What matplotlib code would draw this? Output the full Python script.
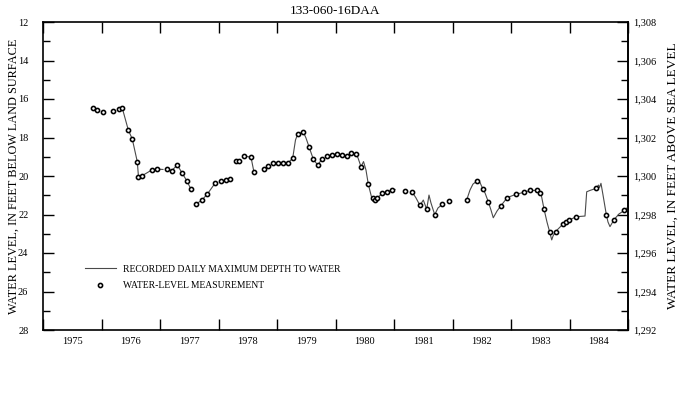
import numpy as np
import matplotlib
matplotlib.use("Agg")
import matplotlib.pyplot as plt
from matplotlib.ticker import FixedLocator, NullFormatter, FuncFormatter

title = "133-060-16DAA"
ylabel_left = "WATER LEVEL, IN FEET BELOW LAND SURFACE"
ylabel_right = "WATER LEVEL, IN FEET ABOVE SEA LEVEL"
legend_line = "RECORDED DAILY MAXIMUM DEPTH TO WATER"
legend_meas = "WATER-LEVEL MEASUREMENT"
years = list(range(1975, 1985))
land_surface = 1320  # feet above sea level

# water-level measurements (decimal year, depth in feet)
meas_year = [1975.860, 1975.928, 1976.031, 1976.202, 1976.294, 1976.356, 1976.458, 1976.526, 1976.612, 1976.629,
             1976.697, 1976.858, 1976.944, 1977.125, 1977.200, 1977.296, 1977.381, 1977.456, 1977.530, 1977.610,
             1977.713, 1977.809, 1977.940, 1978.043, 1978.120, 1978.200, 1978.294, 1978.356, 1978.436, 1978.556,
             1978.607, 1978.778, 1978.851, 1978.937, 1979.022, 1979.108, 1979.183, 1979.268, 1979.354, 1979.450,
             1979.547, 1979.621, 1979.696, 1979.769, 1979.860, 1979.935, 1980.031, 1980.116, 1980.202, 1980.265,
             1980.345, 1980.436, 1980.561, 1980.636, 1980.667, 1980.714, 1980.800, 1980.885, 1980.961, 1981.188,
             1981.308, 1981.444, 1981.559, 1981.696, 1981.829, 1981.944, 1982.244, 1982.419, 1982.521, 1982.612,
             1982.829, 1982.937, 1983.085, 1983.217, 1983.325, 1983.439, 1983.496, 1983.564, 1983.662, 1983.761,
             1983.894, 1983.940, 1983.991, 1984.106, 1984.456, 1984.629, 1984.761, 1984.937]
meas_depth = [16.48, 16.56, 16.69, 16.62, 16.50, 16.48, 17.61, 18.08, 19.26, 20.04,
              19.98, 19.69, 19.64, 19.64, 19.72, 19.43, 19.86, 20.24, 20.69, 21.47,
              21.26, 20.94, 20.38, 20.26, 20.21, 20.16, 19.23, 19.20, 18.95, 19.03,
              19.81, 19.65, 19.46, 19.34, 19.31, 19.31, 19.34, 19.08, 17.82, 17.71,
              18.48, 19.13, 19.43, 19.12, 18.95, 18.91, 18.87, 18.92, 18.96, 18.79,
              18.86, 19.52, 20.43, 21.16, 21.27, 21.14, 20.90, 20.82, 20.73, 20.76,
              20.82, 21.53, 21.73, 22.01, 21.47, 21.31, 21.23, 20.26, 20.69, 21.34,
              21.54, 21.12, 20.95, 20.85, 20.75, 20.75, 20.86, 21.71, 22.92, 22.89,
              22.48, 22.37, 22.29, 22.13, 20.64, 22.00, 22.27, 21.79]

# recorded daily maximum depth, segments separated by gaps (nan)
nan = np.nan
rec_year = [1976.294, 1976.356, 1976.458, 1976.526, 1976.612, 1976.632, 1976.697, 1976.858, 1976.944, 1977.051, nan,
            1977.125, 1977.200, 1977.296, 1977.381, 1977.456, 1977.530, nan,
            1977.610, 1977.713, 1977.809, 1977.940, nan,
            1978.436, 1978.556, 1978.607, nan,
            1979.183, 1979.268, 1979.316, 1979.354, 1979.450, 1979.496, 1979.547, 1979.621, 1979.696, 1979.769, nan,
            1980.345, 1980.385, 1980.436, 1980.479, 1980.521, 1980.561, 1980.607, 1980.636, 1980.667, 1980.714,
            1980.800, 1980.885, 1980.961, 1981.017, nan,
            1981.308, 1981.376, 1981.444, 1981.501, 1981.559, 1981.598, 1981.632, 1981.696, 1981.752, 1981.829, nan,
            1982.244, 1982.299, 1982.350, 1982.419, 1982.470, 1982.521, 1982.556, 1982.612, 1982.658, 1982.697,
            1982.761, 1982.829, 1982.937, 1983.085, 1983.217, 1983.325, 1983.439, 1983.496, 1983.521, 1983.564,
            1983.615, 1983.662, 1983.696, 1983.718, 1983.761, 1983.894, 1983.940, 1983.991, 1984.106, 1984.179,
            1984.265, 1984.294, 1984.350, 1984.456, 1984.496, 1984.513, 1984.538, 1984.573, 1984.629, 1984.658,
            1984.692, 1984.761, 1984.846, 1984.937, 1985.000]
rec_depth = [16.50, 16.48, 17.61, 18.08, 19.26, 20.04, 19.98, 19.69, 19.64, 19.66, nan,
             19.64, 19.72, 19.43, 19.86, 20.24, 20.69, nan,
             21.47, 21.26, 20.94, 20.38, nan,
             18.95, 19.03, 19.81, nan,
             19.34, 19.08, 18.13, 17.82, 17.71, 18.03, 18.48, 19.13, 19.43, 19.12, nan,
             18.86, 19.06, 19.52, 19.25, 19.69, 20.43, 20.99, 21.30, 21.27, 21.14,
             20.90, 20.82, 20.73, 20.70, nan,
             20.82, 21.14, 21.53, 21.25, 21.73, 20.99, 21.40, 22.01, 21.66, 21.47, nan,
             21.23, 20.73, 20.42, 20.26, 20.34, 20.69, 20.88, 21.34, 21.77, 22.17,
             21.82, 21.54, 21.12, 20.95, 20.85, 20.75, 20.75, 20.86, 21.04, 21.71,
             22.39, 22.92, 23.32, 23.12, 22.89, 22.48, 22.37, 22.29, 22.13, 22.10,
             22.08, 20.82, 20.75, 20.64, 20.47, 20.60, 20.38, 20.99, 22.00, 22.39,
             22.63, 22.27, 21.97, 21.79, 21.61]

plt.rcParams['font.family'] = ['Liberation Serif', 'DejaVu Serif']

fig = plt.figure(figsize=(6.87, 4.08), dpi=100)
ax = fig.add_axes([43/687, 1 - 330/408, 585/687, 308/408])

line_h, = ax.plot(rec_year, rec_depth, color='#4a4a4a', lw=0.8)
meas_h, = ax.plot(meas_year, meas_depth, ls='none', marker='o', ms=3.0,
                  mfc='white', mec='black', mew=1.15)

ax.set_xlim(1975, 1985)
ax.set_ylim(28, 12)

# x: ticks at year boundaries, labels at mid-year
ax.xaxis.set_major_locator(FixedLocator(years + [1985]))
ax.xaxis.set_major_formatter(NullFormatter())
ax.xaxis.set_minor_locator(FixedLocator([y + 0.5 for y in years]))
ax.xaxis.set_minor_formatter(FuncFormatter(lambda v, p: str(int(v))))
ax.tick_params(axis='x', which='major', direction='in', length=8, width=1.0,
               top=True, bottom=True)
ax.tick_params(axis='x', which='minor', length=0, pad=5, labelsize=7.5)

ax.yaxis.set_major_locator(FixedLocator(range(12, 29, 2)))
ax.yaxis.set_minor_locator(FixedLocator(range(13, 28, 2)))
ax.tick_params(axis='y', which='major', direction='in', length=8, width=1.0,
               labelsize=7.5, pad=10.5, right=False)
ax.tick_params(axis='y', which='minor', direction='in', length=5, width=1.0,
               right=False)
for s in ax.spines.values():
    s.set_linewidth(1.2)

ax.set_ylabel(ylabel_left, fontsize=8.8, labelpad=-1)
ax.set_title(title, fontsize=9.5, pad=6)

# right axis: altitude
ax2 = ax.secondary_yaxis('right', functions=(lambda d: land_surface - d,
                                             lambda a: land_surface - a))
ax2.yaxis.set_major_locator(FixedLocator(range(1292, 1309, 2)))
ax2.yaxis.set_minor_locator(FixedLocator(range(1293, 1308, 2)))
ax2.yaxis.set_major_formatter(FuncFormatter(lambda v, p: f"{int(round(v)):,}"))
ax2.tick_params(axis='y', which='major', direction='in', length=8, width=1.0,
                labelsize=7.5, pad=4)
ax2.tick_params(axis='y', which='minor', direction='in', length=5, width=1.0)
ax2.spines['right'].set_linewidth(1.2)
ax2.set_ylabel(ylabel_right, fontsize=9.5, labelpad=7)

leg = ax.legend([line_h, meas_h], [legend_line, legend_meas],
                loc='upper left', bbox_to_anchor=(0.072, 0.212),
                frameon=False, fontsize=6.9, handlelength=3.2,
                handletextpad=0.8, labelspacing=0.75, borderpad=0,
                borderaxespad=0, numpoints=1)

fig.savefig("out.png", dpi=100)
